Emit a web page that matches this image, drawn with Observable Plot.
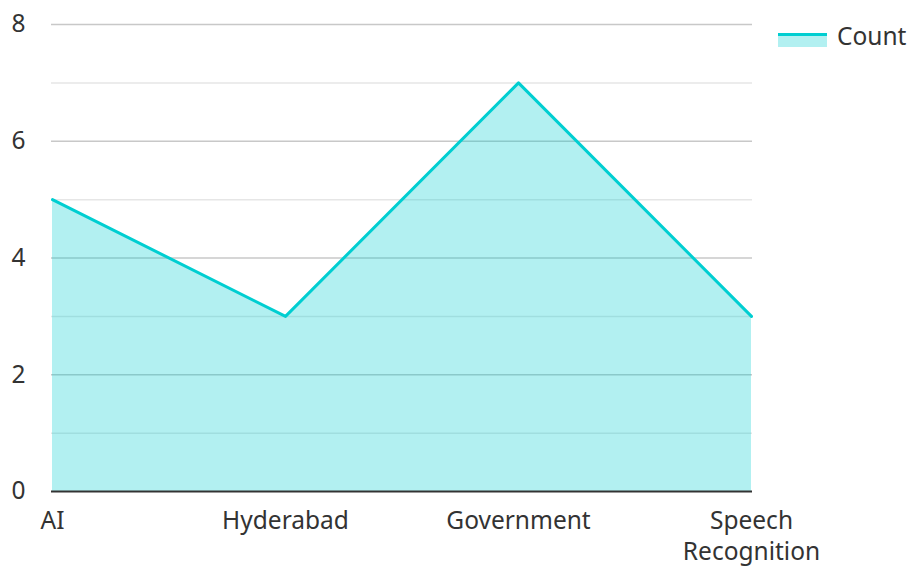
<!DOCTYPE html>
<html><head><meta charset="utf-8">
<script src="https://cdn.jsdelivr.net/npm/d3@7"></script>
<script src="https://cdn.jsdelivr.net/npm/@observablehq/plot@0.6"></script>
<style>
body{margin:0;background:#fff;font-family:"Noto Sans",sans-serif;}
#wrap{position:relative;width:910px;height:566px;}
#legend{position:absolute;left:778px;top:19px;display:flex;align-items:center;font-size:24.5px;color:#333;}
#legend .sw{width:49px;height:14px;background:rgba(0,206,209,0.3);border-top:3px solid #00CED1;box-sizing:border-box;margin-right:10px;margin-top:8px;}
</style></head>
<body><div id="wrap"><div id="legend"><div class="sw"></div><span>Count</span></div></div>
<script>
const categories = ["AI", "Hyderabad", "Government", "Speech Recognition"];
const counts = [5, 3, 7, 3];
const yTicks = [0, 2, 4, 6, 8];
const minorTicks = [1, 3, 5, 7];
const seriesName = "Count";

const data = categories.map((c, i) => ({cat: c, value: counts[i]}));

const chart = Plot.plot({
  width: 910,
  height: 566,
  marginLeft: 51,
  marginRight: 158,
  marginTop: 24,
  marginBottom: 75,
  style: {fontFamily: "Noto Sans, sans-serif", fontSize: "24.5px", color: "#333", background: "transparent"},
  x: {type: "point", domain: categories, label: null, padding: 0},
  y: {domain: [0, 8], label: null},
  marks: [
    Plot.ruleY(minorTicks, {stroke: "#e6e6e6", strokeWidth: 1.5}),
    Plot.ruleY(yTicks.filter(d => d > 0), {stroke: "#c8c8c8", strokeWidth: 1.5}),
    Plot.areaY(data, {x: "cat", y: "value", fill: "#00CED1", fillOpacity: 0.3}),
    Plot.lineY(data, {x: "cat", y: "value", stroke: "#00CED1", strokeWidth: 3}),
    Plot.ruleY([0], {stroke: "#333", strokeWidth: 2}),
    Plot.axisY({ticks: yTicks, tickSize: 0, tickPadding: 26, tickFormat: d => String(d), fontSize: 24.5, fill: "#333", textAnchor: "end"}),
    Plot.axisX({tickSize: 0, tickPadding: 16, fontSize: 24.5, fill: "#333", lineWidth: 8, lineHeight: 1.25, tickFormat: d => d === "Speech Recognition" ? "Speech\nRecognition" : d})
  ]
});
document.getElementById("wrap").prepend(chart);
</script></body></html>
